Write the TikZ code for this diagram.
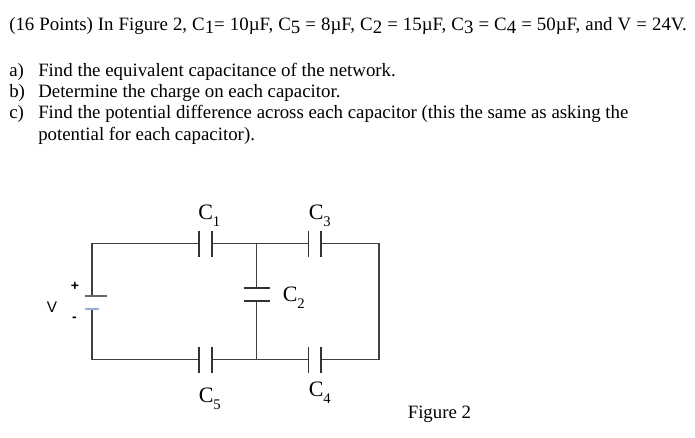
\documentclass[tikz,border=0pt]{standalone}
\usepackage{fontspec}
\setmainfont{Liberation Serif}
\newfontfamily\sansf{Liberation Sans}
\newcommand{\sbs}[1]{\raisebox{-0.2em}{\fontsize{14.14pt}{15pt}\selectfont #1}}
\newcommand{\lsb}[1]{\raisebox{-0.32em}{\fontsize{11pt}{12pt}\selectfont #1}}
\newcommand{\mm}{\textmu}
\definecolor{platebl}{RGB}{150,175,215}
\tikzset{
  wire/.style={draw=black!75,line width=0.9pt},
  plate/.style={draw=black!80,line width=0.9pt},
  txt/.style={anchor=base west,inner sep=0pt,font=\fontsize{14.14pt}{16pt}\selectfont},
  lbl/.style={anchor=base west,inner sep=0pt,font=\fontsize{16.5pt}{18pt}\selectfont},
  sgn/.style={anchor=base,inner sep=0pt}
}
\begin{document}
\begin{tikzpicture}[x=0.75pt,y=-0.75pt]
\useasboundingbox (0,0) rectangle (695,437);
% text
\node[txt] (title) at (9,30) {\spaceskip=3.8pt plus 0pt minus 0pt (16 Points) In Figure 2, C\sbs{1}= 10\mm F, C\sbs{5} = 8\mm F, C\sbs{2} = 15\mm F, C\sbs{3} = C\sbs{4} = 50\mm F, and V = 24V.};
\node[txt] (la) at (9,76.5) {a)};
\node[txt] (ta) at (38,76.5) {Find the equivalent capacitance of the network.};
\node[txt] (lb) at (9,97.5) {b)};
\node[txt] (tb) at (38,97.5) {Determine the charge on each capacitor.};
\node[txt] (lc) at (9,118.5) {c)};
\node[txt] (tc) at (38,118.5) {Find the potential difference across each capacitor (this the same as asking the};
\node[txt] (td) at (38,140.5) {potential for each capacitor).};
\node[txt] (fig) at (407.5,418) {Figure 2};
% labels
\node[lbl] (c1) at (198,219) {C\lsb{1}};
\node[lbl] (c3) at (308.5,219) {C\lsb{3}};
\node[lbl] (c2) at (282.5,301) {C\lsb{2}};
\node[lbl] (c5) at (198.5,402) {C\lsb{5}};
\node[lbl] (c4) at (308.5,396) {C\lsb{4}};
\node[sgn,font=\sansf\fontsize{11.5pt}{12pt}\selectfont] (vl) at (52,312) {V};
\node[sgn,font=\sansf\bfseries\fontsize{10.5pt}{11pt}\selectfont] (plus) at (75,290) {+};
\node[sgn,font=\sansf\bfseries\fontsize{10.5pt}{11pt}\selectfont] (minus) at (74.5,321) {-};
% junctions and plate points
\coordinate (tl) at (92,243.5); \coordinate (bl) at (92,359.5);
\coordinate (tr) at (379,243.5); \coordinate (br) at (379,359.5);
\coordinate (tm) at (256.5,243.5); \coordinate (bm) at (256.5,359.5);
\coordinate (c1a) at (199,243.5); \coordinate (c1b) at (212,243.5);
\coordinate (c3a) at (308.5,243.5); \coordinate (c3b) at (321,243.5);
\coordinate (c5a) at (199,359.5); \coordinate (c5b) at (212,359.5);
\coordinate (c4a) at (308.5,359.5); \coordinate (c4b) at (321,359.5);
\coordinate (c2a) at (256.5,288); \coordinate (c2b) at (256.5,301);
\coordinate (ba) at (92,296); \coordinate (bb) at (92,309);
% wires
\draw[wire] (ba) -- (tl) -- (c1a);
\draw[wire] (c1b) -- (tm) -- (c3a);
\draw[wire] (c3b) -- (tr) -- (br) -- (c4b);
\draw[wire] (c4a) -- (bm) -- (c5b);
\draw[wire] (c5a) -- (bl) -- (bb);
\draw[wire] (tm) -- (c2a);
\draw[wire] (c2b) -- (bm);
% plates
\foreach \p in {c1a,c1b,c3a,c3b,c5a,c5b,c4a,c4b}
  \draw[plate] ([yshift=13*0.75pt]\p) -- ([yshift=-13*0.75pt]\p);
\foreach \p in {c2a,c2b}
  \draw[plate] ([xshift=-13*0.75pt]\p) -- ([xshift=13*0.75pt]\p);
\draw[plate,draw=black!60] ([xshift=-7*0.75pt]ba) -- ([xshift=15*0.75pt]ba);
\draw[plate,draw=platebl] ([xshift=-7*0.75pt]bb) -- ([xshift=7*0.75pt]bb);
\end{tikzpicture}
\end{document}
